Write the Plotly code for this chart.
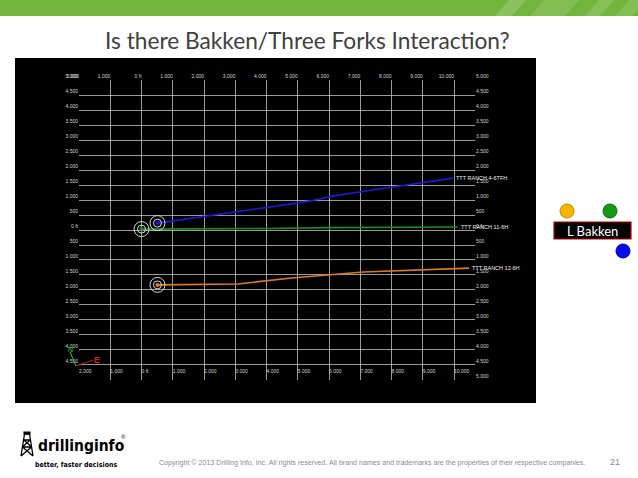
import plotly.graph_objects as go

# ---------------- data ----------------
x_tick_vals = [-2000, -1000, 0, 1000, 2000, 3000, 4000, 5000, 6000, 7000, 8000, 9000, 10000]
x_tick_text = ["2.000", "1.000", "0 ft", "1.000", "2.000", "3.000", "4.000", "5.000",
               "6.000", "7.000", "8.000", "9.000", "10.000"]
y_tick_vals = [-5000, -4500, -4000, -3500, -3000, -2500, -2000, -1500, -1000, -500, 0,
               500, 1000, 1500, 2000, 2500, 3000, 3500, 4000, 4500, 5000]
y_tick_text = ["5.000", "4.500", "4.000", "3.500", "3.000", "2.500", "2.000", "1.500", "1.000", "500", "0 ft",
               "500", "1.000", "1.500", "2.000", "2.500", "3.000", "3.500", "4.000", "4.500", "5.000"]

well_names = ["TTT RANCH 4-6TFH", "TTT RANCH 11-6H", "TTT RANCH 12-6H"]
well_colors = ["#1a1ad8", "#1f8a1f", "#e07a22"]

blue_x = [510, 1900, 3200, 4800, 5400, 6100, 7500, 9000, 9970]
blue_y = [230, 430, 630, 870, 970, 1130, 1350, 1570, 1730]

green_x = [0, 500, 2000, 4000, 6000, 8000, 9500, 10120]
green_y = [30, 30, 40, 50, 80, 100, 90, 100]

orange_x = [510, 3080, 4800, 7100, 10480]
orange_y = [-1830, -1800, -1600, -1400, -1270]

legend_label = "L Bakken"

# ---------------- geometry helpers (pixel -> paper) ----------------
W, H = 638, 478
L, R, T, B = 79, 475, 80, 380


def X(px):
    return (px - L) / (R - L)


def Y(py):
    return (B - py) / (B - T)


series = [(blue_x, blue_y), (green_x, green_y), (orange_x, orange_y)]

fig = go.Figure()

for (xs, ys), name, col in zip(series, well_names, well_colors):
    fig.add_trace(go.Scatter(x=xs, y=ys, mode="lines", name=name,
                             line=dict(color=col, width=1.6), hoverinfo="skip"))

# start-point rings
sx = [s[0][0] for s in series]
sy = [s[1][0] for s in series]
fig.add_trace(go.Scatter(x=sx, y=sy, mode="markers", hoverinfo="skip",
                         marker=dict(symbol="circle-open", size=15, color="#d8d8d8",
                                     line=dict(width=1, color="#d8d8d8"))))
fig.add_trace(go.Scatter(x=sx, y=sy, mode="markers", hoverinfo="skip",
                         marker=dict(symbol="circle-open", size=8, color="#d8d8d8",
                                     line=dict(width=1, color="#d8d8d8"))))
fig.add_trace(go.Scatter(x=sx, y=sy, mode="markers", hoverinfo="skip",
                         marker=dict(symbol="circle", size=4, color=well_colors)))

# invisible trace for secondary axes
fig.add_trace(go.Scatter(x=[0], y=[0], xaxis="x2", yaxis="y2", mode="markers",
                         marker=dict(opacity=0), hoverinfo="skip"))

# well labels at line ends
for (xs, ys), name in zip(series, well_names):
    fig.add_annotation(x=xs[-1], y=ys[-1], text=name, showarrow=False,
                       xanchor="left", yanchor="middle", xshift=1,
                       font=dict(family="Liberation Sans", size=5.5, color="#f0f0f0"))

tickfont = dict(family="Liberation Sans", size=5, color="#d4d4d4")
xr = [-2001, 10672]
yr = [-5001, 5001]
grid = "rgba(205,205,205,0.75)"

fig.update_layout(
    width=W, height=H,
    margin=dict(l=L, r=W - R, t=T, b=H - B, autoexpand=False),
    paper_bgcolor="white", plot_bgcolor="black",
    showlegend=False,
    xaxis=dict(range=xr, tickvals=x_tick_vals, ticktext=x_tick_text, showgrid=True,
               gridcolor=grid, gridwidth=1, zeroline=False, showline=False, ticks="",
               ticklabelposition="inside right", tickfont=tickfont, fixedrange=True),
    xaxis2=dict(range=xr, tickvals=x_tick_vals, ticktext=x_tick_text, overlaying="x",
                side="top", anchor="y", showgrid=False, zeroline=False, showline=False,
                ticks="", ticklabelposition="outside left", tickfont=tickfont),
    yaxis=dict(range=yr, tickvals=y_tick_vals, ticktext=y_tick_text, showgrid=True,
               gridcolor=grid, gridwidth=1, zeroline=False, showline=False, ticks="",
               ticklabelposition="outside top", tickfont=tickfont),
    yaxis2=dict(range=yr, tickvals=y_tick_vals, ticktext=y_tick_text, overlaying="y",
                side="right", anchor="x", showgrid=False, zeroline=False, showline=False,
                ticks="", ticklabelposition="outside top", tickfont=tickfont),
)

shapes = []
# black chart panel
shapes.append(dict(type="rect", xref="paper", yref="paper", layer="below",
                   x0=X(15), x1=X(536), y0=Y(403), y1=Y(58),
                   fillcolor="black", line=dict(width=0)))
# green top bar
shapes.append(dict(type="rect", xref="paper", yref="paper", layer="below",
                   x0=X(0), x1=X(638), y0=Y(16), y1=Y(0),
                   fillcolor="#72b53d", line=dict(width=0)))
for a, b, op in [(495, 512, 0.18), (530, 565, 0.12), (585, 600, 0.15), (615, 632, 0.12)]:
    path = "M {} {} L {} {} L {} {} L {} {} Z".format(
        X(a), Y(16), X(b), Y(16), X(b + 14), Y(0), X(a + 14), Y(0))
    shapes.append(dict(type="path", xref="paper", yref="paper", layer="below",
                       path=path, fillcolor="rgba(255,255,255,{})".format(op), line=dict(width=0)))

# compass
shapes.append(dict(type="line", xref="paper", yref="paper", x0=X(76), y0=Y(366),
                   x1=X(70), y1=Y(352), line=dict(color="#2bd62b", width=1)))
shapes.append(dict(type="line", xref="paper", yref="paper", x0=X(76), y0=Y(366),
                   x1=X(93), y1=Y(360), line=dict(color="#c62020", width=1)))

# legend circles (outside panel)
for cx, cy, fc, lc in [(567, 211, "#f7b500", "#c08800"), (610, 211, "#169a16", "#0d6e0d"),
                       (623, 251, "#0a0aee", "#0000a0")]:
    shapes.append(dict(type="circle", xref="paper", yref="paper",
                       x0=X(cx - 7), x1=X(cx + 7), y0=Y(cy + 7), y1=Y(cy - 7),
                       fillcolor=fc, line=dict(color=lc, width=1)))
# L Bakken box
shapes.append(dict(type="rect", xref="paper", yref="paper",
                   x0=X(554), x1=X(631), y0=Y(239), y1=Y(222),
                   fillcolor="black", line=dict(color="#c00000", width=1.2)))

# derrick icon
derrick = ("M {a} {b} L {c} {d} L {e} {d} L {f} {b} "
           "M {g} {h} L {i} {h} M {j} {k} L {l} {k} "
           "M {a} {b} L {i} {h} M {f} {b} L {g} {h} "
           "M {g} {h} L {l} {k} M {i} {h} L {j} {k}").format(
    a=X(21), b=Y(456), c=X(24.5), d=Y(434), e=X(29.5), f=X(33),
    g=X(22.5), h=Y(447), i=X(31.5), j=X(24), k=Y(440), l=X(30))
shapes.append(dict(type="path", xref="paper", yref="paper", path=derrick,
                   line=dict(color="black", width=1.3)))
shapes.append(dict(type="rect", xref="paper", yref="paper",
                   x0=X(23.5), x1=X(30.5), y0=Y(434.5), y1=Y(431.5),
                   fillcolor="black", line=dict(width=0)))
fig.update_layout(shapes=shapes)

annots = [
    dict(x=X(307), y=Y(40), text="Is there Bakken/Three Forks Interaction?",
         font=dict(family="Lato", size=22.7, color="#404040"), xanchor="center", yanchor="middle"),
    dict(x=X(70), y=Y(349), text="N", font=dict(family="Liberation Sans", size=7, color="#2bd62b"),
         xanchor="center", yanchor="middle"),
    dict(x=X(97), y=Y(360), text="<b>E</b>", font=dict(family="Liberation Sans", size=9, color="#d02020"),
         xanchor="center", yanchor="middle"),
    dict(x=X(592.5), y=Y(230.5), text=legend_label,
         font=dict(family="Lato", size=13, color="white"), xanchor="center", yanchor="middle"),
    dict(x=X(36), y=Y(446), text="<b>drillinginfo</b>",
         font=dict(family="DejaVu Sans Condensed", size=15.5, color="black"),
         xanchor="left", yanchor="middle"),
    dict(x=X(119), y=Y(437), text="®", font=dict(family="Liberation Sans", size=6, color="black"),
         xanchor="left", yanchor="middle"),
    dict(x=X(33), y=Y(465), text="<b>better, faster decisions</b>",
         font=dict(family="DejaVu Sans Condensed", size=7, color="black"),
         xanchor="left", yanchor="middle"),
    dict(x=X(157), y=Y(463),
         text="Copyright © 2013 Drilling Info, Inc. All rights reserved. All brand names and trademarks are the properties of their respective companies.",
         font=dict(family="Liberation Sans", size=7.1, color="#8c8c8c"), xanchor="left", yanchor="middle"),
    dict(x=X(615), y=Y(462), text="21", font=dict(family="Liberation Sans", size=9, color="#8c8c8c"),
         xanchor="center", yanchor="middle"),
]
for a in annots:
    fig.add_annotation(xref="paper", yref="paper", showarrow=False, **a)

fig.write_html("out.html", config={"displayModeBar": False},
               post_script="document.body.style.margin='0px';")
